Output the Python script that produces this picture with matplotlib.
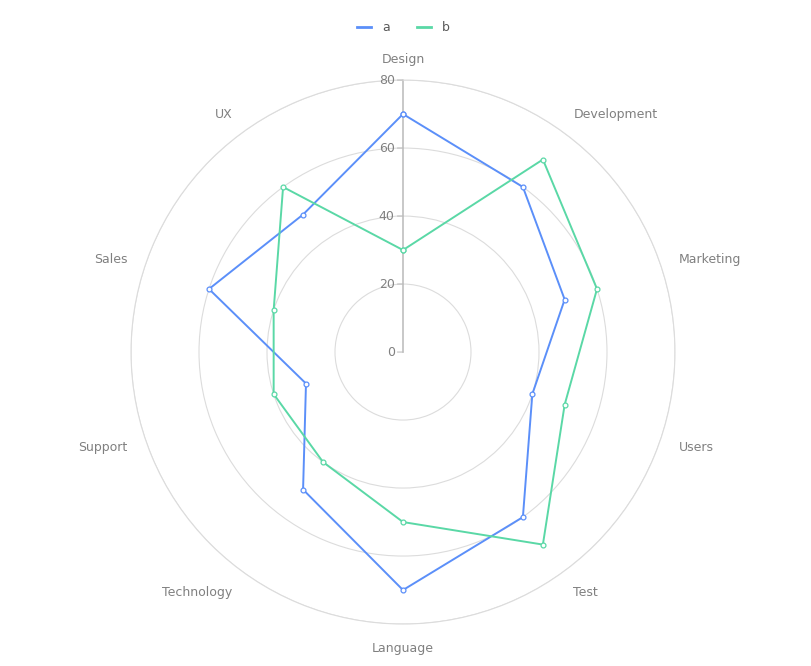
import numpy as np
import matplotlib
matplotlib.use("Agg")
import matplotlib.pyplot as plt
from matplotlib.lines import Line2D

# 数据
categories = ["Design", "Development", "Marketing", "Users", "Test",
              "Language", "Technology", "Support", "Sales", "UX"]
series_a = [70, 60, 50, 40, 60, 70, 50, 30, 60, 50]
series_b = [30, 70, 60, 50, 70, 50, 40, 40, 40, 60]
ticks = [0, 20, 40, 60, 80]

COLOR_A = "#5B8FF9"
COLOR_B = "#5AD8A6"
GRID = "#dcdcdc"

plt.rcParams['font.family'] = ['DejaVu Sans']

fig = plt.figure(figsize=(8.12, 6.66), dpi=100)
ax = fig.add_axes([0.1613, 0.063, 0.67, 0.8168], projection="polar")
ax.set_theta_zero_location("N")
ax.set_theta_direction(-1)
ax.set_ylim(0, 80)

n = len(categories)
angles = np.arange(n) * 2 * np.pi / n

# 网格圆
ax.set_xticks([])
ax.set_yticks(ticks[1:])
ax.set_yticklabels([])
ax.yaxis.grid(True, color=GRID, linewidth=0.8)
ax.xaxis.grid(False)
ax.spines["polar"].set_color(GRID)
ax.spines["polar"].set_linewidth(0.8)

# 轴线和刻度
ax.plot([0, 0], [0, 80], color="#bfbfbf", linewidth=1.2, zorder=2)
for t in ticks:
    ax.annotate("", xy=(0, t), xytext=(-4, 0), textcoords="offset points",
                arrowprops=dict(arrowstyle="-", color="#bfbfbf", lw=0.8,
                                shrinkA=0, shrinkB=0))
    ax.annotate(str(t), xy=(0, t), xytext=(-6, 0), textcoords="offset points",
                ha="right", va="center", fontsize=9, color="#808080")

# 系列
for vals, col, lab in [(series_a, COLOR_A, "a"), (series_b, COLOR_B, "b")]:
    th = np.append(angles, angles[0])
    rr = np.append(vals, vals[0])
    ax.plot(th, rr, color=col, linewidth=1.4, marker="o", markersize=3.5,
            markerfacecolor="white", markeredgecolor=col, markeredgewidth=0.9,
            label=lab, zorder=3, clip_on=False)

# 分类标签（距圆心约290像素）
for ang, name in zip(angles, categories):
    s, c = np.sin(ang), np.cos(ang)
    if abs(s) < 1e-6:
        ha = "center"
    elif s > 0:
        ha = "left"
    else:
        ha = "right"
    dx = 290 * s
    dy = 290 * c + 4.5 * np.sign(c) - 1.5
    ax.annotate(name, xy=(0, 0), xytext=(dx, dy), textcoords="offset pixels",
                ha=ha, va="center", fontsize=9, color="#808080",
                annotation_clip=False)

handles = [Line2D([], [], color=COLOR_A, linewidth=2),
           Line2D([], [], color=COLOR_B, linewidth=2)]
fig.legend(handles, ["a", "b"], loc="center", bbox_to_anchor=(0.497, 0.958),
           ncol=2, frameon=False, fontsize=9, handlelength=1.1,
           columnspacing=2.2, handletextpad=0.9, labelcolor="#595959")

fig.savefig("out.png", dpi=100)
